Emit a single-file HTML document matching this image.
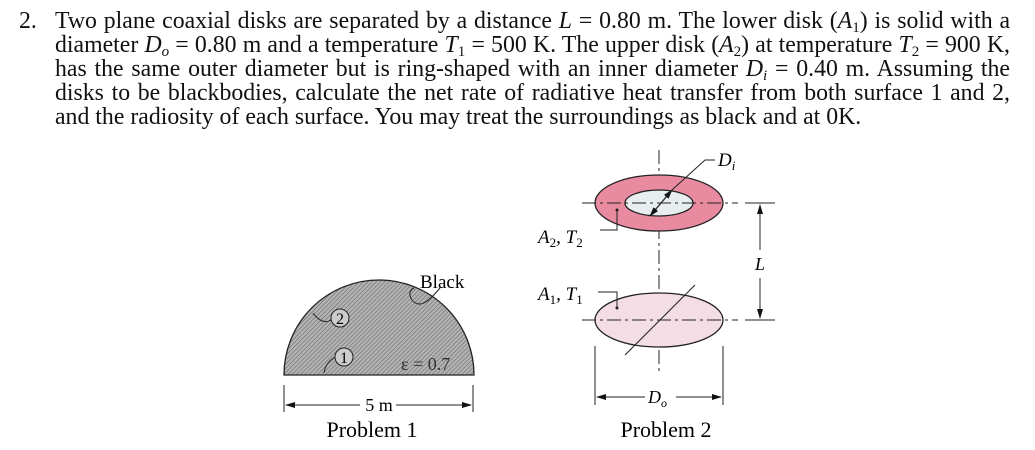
<!DOCTYPE html>
<html><head><meta charset="utf-8"><style>
body{margin:0;width:1035px;height:450px;background:#fff;position:relative;overflow:hidden;font-family:"Liberation Serif",serif;color:#111}
.l{position:absolute;left:55px;width:955px;font-size:23.8px;line-height:24px;white-space:nowrap;text-align:justify;text-align-last:justify}
.n{position:absolute;left:19px;top:9px;font-size:23.8px;line-height:24px}
i{font-style:italic}
sub{font-size:15px;vertical-align:-4px;line-height:0}
svg{position:absolute;left:0;top:0}
</style></head><body>
<div class="n">2.</div>
<div class="l" style="top:9px">Two plane coaxial disks are separated by a distance <i>L</i> = 0.80 m. The lower disk (<i>A</i><sub>1</sub>) is solid with a</div>
<div class="l" style="top:33px">diameter <i>D<sub>o</sub></i> = 0.80 m and a temperature <i>T</i><sub>1</sub> = 500 K. The upper disk (<i>A</i><sub>2</sub>) at temperature <i>T</i><sub>2</sub> = 900 K,</div>
<div class="l" style="top:57px">has the same outer diameter but is ring-shaped with an inner diameter <i>D<sub>i</sub></i> = 0.40 m. Assuming the</div>
<div class="l" style="top:81px">disks to be blackbodies, calculate the net rate of radiative heat transfer from both surface 1 and 2,</div>
<div class="l" style="top:105px;text-align-last:left">and the radiosity of each surface. You may treat the surroundings as black and at 0K.</div>
<svg width="1035" height="450" viewBox="0 0 1035 450" font-family="Liberation Serif, serif">
<defs>
<pattern id="h" width="3" height="3" patternUnits="userSpaceOnUse" patternTransform="rotate(45)"><rect width="3" height="3" fill="#b4b4b4"/><line x1="0" y1="0" x2="0" y2="3" stroke="#6e6e6e" stroke-width="1.3"/></pattern>
<marker id="a" markerWidth="10" markerHeight="6" refX="9" refY="3" orient="auto"><path d="M0,0 L10,3 L0,6z" fill="#111"/></marker>
</defs>
<!-- Problem 1 -->
<path d="M284,375 A95,95 0 0 1 474,375 Z" fill="url(#h)" stroke="#222" stroke-width="1.3"/>
<text x="420" y="288" font-size="19">Black</text>
<path d="M440,288 C430,300 420,310 412,300 C408,294 410,290 414,288" fill="none" stroke="#222"/>
<circle cx="340" cy="318" r="9" fill="#ccc" stroke="#222"/><text x="340" y="324" font-size="16" text-anchor="middle">2</text>
<path d="M331,320 C325,324 318,320 313,313" fill="none" stroke="#222"/>
<circle cx="344" cy="357" r="9" fill="#ccc" stroke="#222"/><text x="344" y="363" font-size="16" text-anchor="middle">1</text>
<path d="M335,357 C330,360 325,365 324,373" fill="none" stroke="#222"/>
<text x="401" y="370" font-size="18" fill="#333">ε = 0.7</text>
<line x1="284" y1="385" x2="284" y2="412" stroke="#222"/><line x1="473" y1="385" x2="473" y2="412" stroke="#222"/>
<line x1="360" y1="405" x2="286" y2="405" stroke="#222" marker-end="url(#a)"/>
<line x1="396" y1="405" x2="471" y2="405" stroke="#222" marker-end="url(#a)"/>
<text x="379" y="411" font-size="18" text-anchor="middle">5 m</text>
<text x="372" y="437" font-size="22" text-anchor="middle">Problem 1</text>
<!-- Problem 2 -->
<line x1="659" y1="150" x2="659" y2="372" stroke="#222" stroke-dasharray="14,4,3,4"/>
<ellipse cx="659" cy="203" rx="64" ry="28" fill="#e98ba0" stroke="#222" stroke-width="1.3"/>
<ellipse cx="659" cy="203" rx="34" ry="13" fill="#e8eef0" stroke="#222" stroke-width="1.3"/>
<ellipse cx="659" cy="320" rx="64" ry="27" fill="#f4dde4" stroke="#222" stroke-width="1.3"/>
<line x1="582" y1="203" x2="738" y2="203" stroke="#222" stroke-dasharray="14,4,3,4"/>
<line x1="582" y1="320" x2="738" y2="320" stroke="#222" stroke-dasharray="14,4,3,4"/>
<line x1="745" y1="203" x2="775" y2="203" stroke="#222"/><line x1="745" y1="320" x2="775" y2="320" stroke="#222"/>
<line x1="760" y1="250" x2="760" y2="205" stroke="#222" marker-end="url(#a)"/>
<line x1="760" y1="278" x2="760" y2="318" stroke="#222" marker-end="url(#a)"/>
<text x="760" y="270" font-size="18" font-style="italic" text-anchor="middle">L</text>
<line x1="650" y1="216" x2="672" y2="190" stroke="#222" marker-end="url(#a)"/>
<line x1="672" y1="190" x2="650" y2="216" stroke="#222" marker-end="url(#a)"/>
<path d="M672,190 L705,160 L715,160" fill="none" stroke="#222"/>
<text x="718" y="166" font-size="19" font-style="italic">D<tspan font-size="13" dy="4">i</tspan></text>
<line x1="625" y1="355" x2="695" y2="285" stroke="#222"/>
<circle cx="617" cy="210" r="1.5" fill="#222"/><path d="M617,210 L617,230 L600,230" fill="none" stroke="#222"/>
<text x="538" y="243" font-size="19" font-style="italic">A<tspan font-size="13" dy="4" font-style="normal">2</tspan><tspan dy="-4">, T</tspan><tspan font-size="13" dy="4" font-style="normal">2</tspan></text>
<circle cx="617" cy="308" r="1.5" fill="#222"/><path d="M617,308 L617,292 L598,292" fill="none" stroke="#222"/>
<text x="538" y="300" font-size="19" font-style="italic">A<tspan font-size="13" dy="4" font-style="normal">1</tspan><tspan dy="-4">, T</tspan><tspan font-size="13" dy="4" font-style="normal">1</tspan></text>
<line x1="595" y1="346" x2="595" y2="405" stroke="#222"/><line x1="723" y1="346" x2="723" y2="405" stroke="#222"/>
<line x1="645" y1="397" x2="597" y2="397" stroke="#222" marker-end="url(#a)"/>
<line x1="676" y1="397" x2="721" y2="397" stroke="#222" marker-end="url(#a)"/>
<text x="648" y="403" font-size="18" font-style="italic">D<tspan font-size="12" dy="4">o</tspan></text>
<text x="666" y="437" font-size="22" text-anchor="middle">Problem 2</text>
</svg>
</body></html>
